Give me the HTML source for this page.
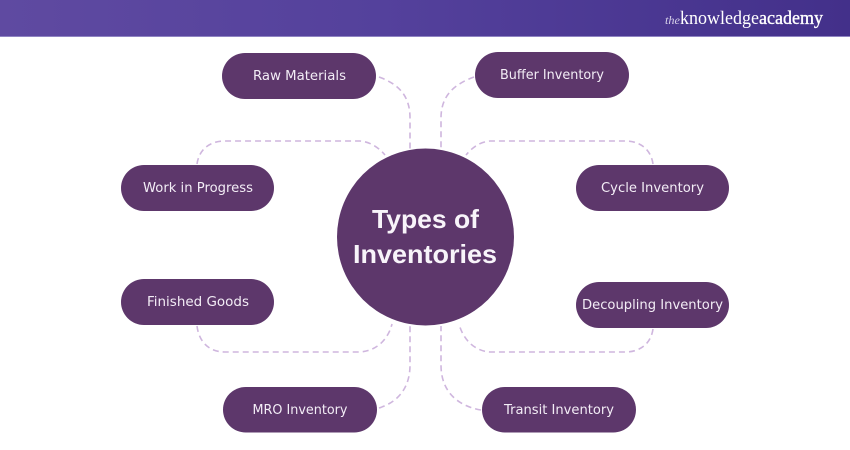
<!DOCTYPE html>
<html><head><meta charset="utf-8"><style>
html,body{margin:0;padding:0;background:#fff;width:850px;height:450px;overflow:hidden}
svg{display:block}
</style></head><body>
<svg width="850" height="450" viewBox="0 0 850 450" xmlns="http://www.w3.org/2000/svg">
<defs><linearGradient id="g" x1="0" x2="1" y1="0" y2="0">
<stop offset="0" stop-color="#5f4aa1"/><stop offset="0.45" stop-color="#54419c"/><stop offset="1" stop-color="#43308a"/></linearGradient></defs>
<rect width="850" height="450" fill="#fff"/>
<rect width="850" height="36" fill="url(#g)"/>
<rect y="36" width="850" height="1" fill="#8f84c2"/>
<text x="665" y="24" font-family="Liberation Serif, serif" font-style="italic" font-size="12" fill="#d8d2ea" textLength="15" lengthAdjust="spacingAndGlyphs">the</text>
<text x="680" y="24" font-family="Liberation Serif, serif" font-size="18.5" fill="#fff" textLength="143" lengthAdjust="spacingAndGlyphs">knowledge<tspan stroke="#fff" stroke-width="0.35">academy</tspan></text>
<g fill="none" stroke="#cfb6de" stroke-width="1.6" stroke-dasharray="6 4">
<path d="M379 77C398 84 410 95 410 118V150"/>
<path d="M197 164C199 150 209 141 225 141H360C371 142 379 148 385 155"/>
<path d="M474 77C455 84 441 95 441 118V150"/>
<path d="M653 164C651 150 641 141 625 141H490C479 142 472 148 466 155"/>
<path d="M197 326C199 342 209 352 225 352H360C376 351 388 340 392 324"/>
<path d="M653 329C651 343 641 352 625 352H490C474 351 463 339 459 324"/>
<path d="M379 408C398 402 410 388 410 365V326"/>
<path d="M481 410C458 406 441 392 441 365V326"/>
</g>
<g fill="#5d376b">
<circle cx="425.500" cy="237" r="88.500"/>
<rect x="222" y="53" width="154" height="46" rx="23"/>
<rect x="475" y="52" width="154" height="46" rx="23"/>
<rect x="121" y="165" width="153" height="46" rx="23"/>
<rect x="576" y="165" width="153" height="46" rx="23"/>
<rect x="121" y="279" width="153" height="46" rx="23"/>
<rect x="576" y="282" width="153" height="46" rx="23"/>
<rect x="223" y="387" width="154" height="45.500" rx="22.750"/>
<rect x="482" y="387" width="154" height="45.500" rx="22.750"/>
</g>
<g font-family="DejaVu Sans, Liberation Sans, sans-serif" font-size="13" fill="#f3edf6" lengthAdjust="spacingAndGlyphs">
<text x="253" y="80" textLength="93" lengthAdjust="spacingAndGlyphs">Raw Materials</text>
<text x="500" y="79" textLength="104" lengthAdjust="spacingAndGlyphs">Buffer Inventory</text>
<text x="143" y="192" textLength="110" lengthAdjust="spacingAndGlyphs">Work in Progress</text>
<text x="601" y="192" textLength="103" lengthAdjust="spacingAndGlyphs">Cycle Inventory</text>
<text x="147" y="306" textLength="102" lengthAdjust="spacingAndGlyphs">Finished Goods</text>
<text x="582" y="309" textLength="141" lengthAdjust="spacingAndGlyphs">Decoupling Inventory</text>
<text x="252.500" y="414" textLength="95" lengthAdjust="spacingAndGlyphs">MRO Inventory</text>
<text x="504" y="414" textLength="110" lengthAdjust="spacingAndGlyphs">Transit Inventory</text>
</g>
<g font-family="Liberation Sans, sans-serif" font-weight="bold" font-size="26" fill="#f8f4fa">
<text x="372" y="228" textLength="107" lengthAdjust="spacingAndGlyphs">Types of</text>
<text x="353" y="263" textLength="144" lengthAdjust="spacingAndGlyphs">Inventories</text>
</g>
</svg>
</body></html>
